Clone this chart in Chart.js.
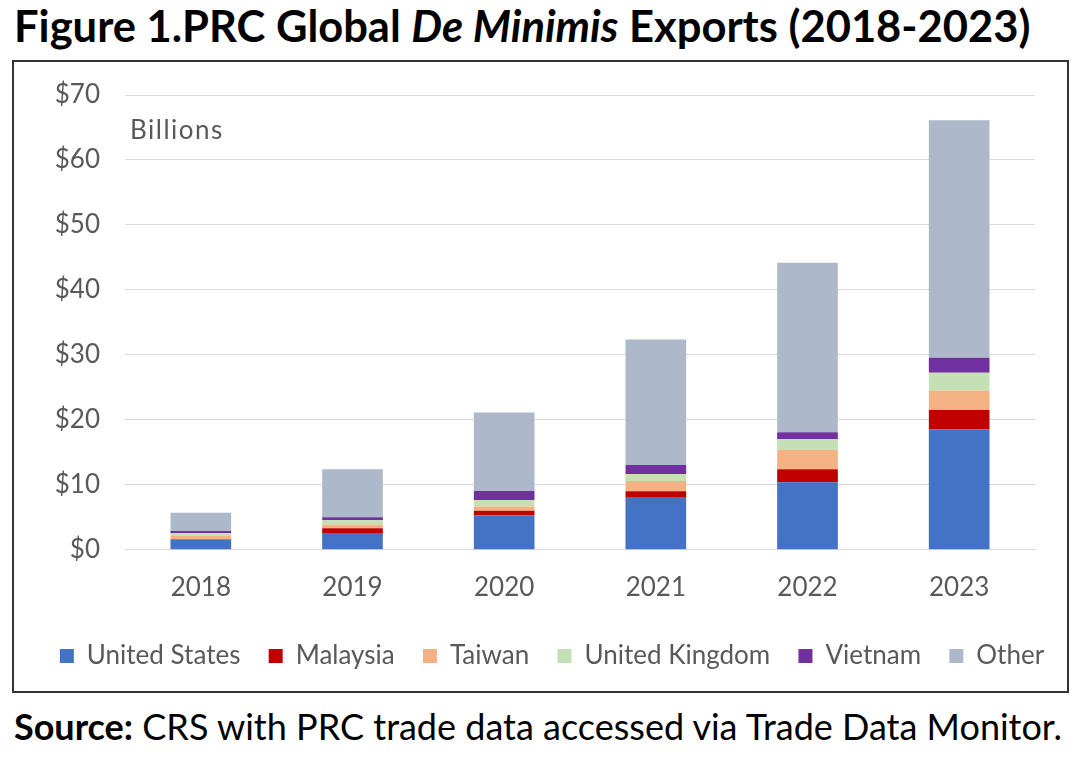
<!DOCTYPE html>
<html>
<head>
<meta charset="utf-8">
<script src="https://cdn.jsdelivr.net/npm/chart.js@4"></script>
<style>
  html, body { margin: 0; padding: 0; background: #fff; }
  body { width: 1080px; height: 757px; position: relative; overflow: hidden; }
  #title {
    position: absolute; left: 14px; top: -1px; white-space: nowrap;
    font-family: 'Lato', sans-serif; font-weight: 700; font-size: 43.5px; color: #000;
  }
  #box {
    position: absolute; left: 12px; top: 60px; width: 1053px; height: 629px;
    border: 2px solid #333;
  }
  #chart { position: absolute; left: 14px; top: 62px; }
  #source {
    position: absolute; left: 14px; top: 704px; white-space: nowrap;
    font-family: 'Lato', sans-serif; font-size: 36px; color: #000;
  }
</style>
</head>
<body>
<div id="title">Figure 1.PRC Global <i>De Minimis</i> Exports (2018-2023)</div>
<div id="box"></div>
<canvas id="chart" width="1076" height="629"></canvas>
<div id="source"><b>Source:</b> CRS with PRC trade data accessed via Trade Data Monitor.</div>
<script>
'use strict';

// ── Data (US$ billions) ──────────────────────────────────────
const YEARS          = ['2018', '2019', '2020', '2021', '2022', '2023'];
const UNITED_STATES  = [1.5, 2.6, 5.3, 8.0, 10.4, 18.5];
const MALAYSIA       = [0.1, 0.7, 0.7, 1.0, 2.0, 3.0];
const TAIWAN         = [0.6, 0.6, 0.65, 1.6, 3.0, 3.0];
const UNITED_KINGDOM = [0.35, 0.7, 1.0, 1.05, 1.6, 2.75];
const VIETNAM        = [0.35, 0.4, 1.4, 1.4, 1.1, 2.3];
const OTHER          = [2.8, 7.4, 12.1, 19.3, 26.1, 36.55];
const Y_TICKS        = [0, 10, 20, 30, 40, 50, 60, 70];

const SERIES = [
  { label: 'United States',  data: UNITED_STATES,  color: '#4472C4' },
  { label: 'Malaysia',       data: MALAYSIA,       color: '#C00000' },
  { label: 'Taiwan',         data: TAIWAN,         color: '#F4B183' },
  { label: 'United Kingdom', data: UNITED_KINGDOM, color: '#C5E0B4' },
  { label: 'Vietnam',        data: VIETNAM,        color: '#7030A0' },
  { label: 'Other',          data: OTHER,          color: '#ADB9CA' }
];

const TEXT_GREY = '#595959';
const FONT = "'Lato', sans-serif";

// "Billions" unit note in the top-left of the plot area
const unitNote = {
  id: 'unitNote',
  afterDraw(chart) {
    const { ctx, chartArea } = chart;
    ctx.save();
    ctx.font = `26px ${FONT}`;
    ctx.letterSpacing = '1.5px';
    ctx.fillStyle = TEXT_GREY;
    ctx.textBaseline = 'middle';
    ctx.fillText('Billions', chartArea.left + 5, chartArea.top + 36);
    ctx.restore();
  }
};

new Chart(document.getElementById('chart').getContext('2d'), {
  type: 'bar',
  data: {
    labels: YEARS,
    datasets: SERIES.map(s => ({
      label: s.label,
      data: s.data,
      backgroundColor: s.color,
      borderWidth: 0,
      barPercentage: 0.4,
      categoryPercentage: 1.0
    }))
  },
  options: {
    responsive: false,
    animation: false,
    layout: { padding: { top: 33, right: 0, bottom: 12, left: 0 } },
    plugins: {
      legend: {
        position: 'bottom',
        labels: {
          font: { family: FONT, size: 26 },
          color: TEXT_GREY,
          boxWidth: 14,
          boxHeight: 14,
          padding: 18,
          // a little trailing space widens the gap between entries
          generateLabels: chart => {
            const items = Chart.defaults.plugins.legend.labels.generateLabels(chart);
            items.forEach((it, i) => { if (i < items.length - 1) it.text += '\u2004\u200A'; });
            return items;
          }
        }
      },
      tooltip: { enabled: false }
    },
    scales: {
      x: {
        stacked: true,
        grid: { display: false, drawTicks: false },
        border: { color: '#d9d9d9' },
        ticks: { font: { family: FONT, size: 26 }, color: TEXT_GREY, padding: 22 }
      },
      y: {
        stacked: true,
        min: 0,
        max: 70,
        afterFit: s => { s.width = 111; s.paddingTop = 0; s.paddingBottom = 0; },
        afterBuildTicks: s => { s.ticks = Y_TICKS.map(v => ({ value: v })); },
        grid: { color: '#d9d9d9', drawTicks: false },
        border: { display: false },
        ticks: {
          font: { family: FONT, size: 26 },
          color: TEXT_GREY,
          padding: 25,
          callback: v => '$' + v
        }
      },
      // empty right-hand margin so the plot ends where the original does
      yRight: {
        position: 'right',
        afterFit: s => { s.width = 55; s.paddingTop = 0; s.paddingBottom = 0; },
        grid: { display: false, drawTicks: false },
        border: { display: false },
        ticks: { display: false }
      }
    }
  },
  plugins: [unitNote]
});
</script>
</body>
</html>
